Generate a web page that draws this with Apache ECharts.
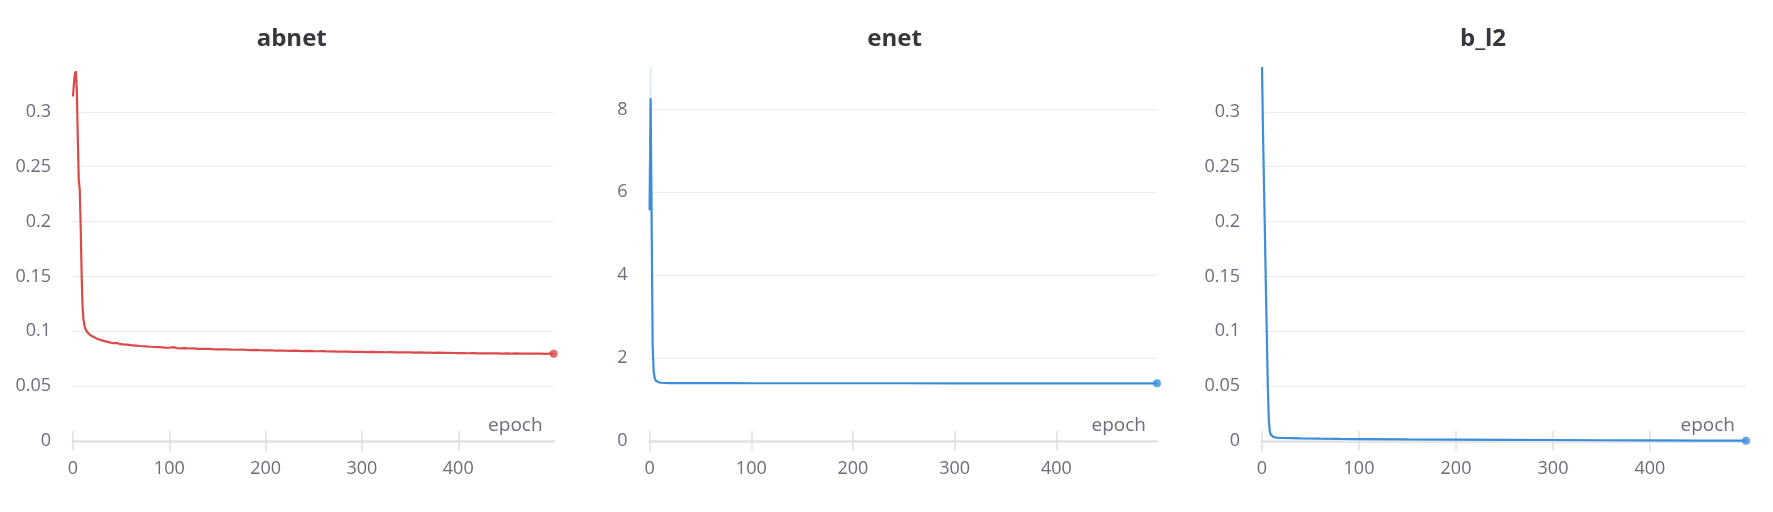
<!DOCTYPE html>
<html>
<head>
<meta charset="utf-8">
<script src="https://cdn.jsdelivr.net/npm/echarts@6/dist/echarts.min.js"></script>
<style>
  html, body { margin: 0; padding: 0; background: #ffffff; }
  #chart { width: 1773px; height: 512px; }
</style>
</head>
<body>
<div id="chart"></div>
<script>
// ---------------- data ----------------
const titles = ['abnet', 'enet', 'b_l2'];
const xAxisName = 'epoch';
const xTicks = [0, 100, 200, 300, 400];

const abnetEpochs = [0,1,2,3,4,5,6,7,8,9,10,11,12,13,14,15,16,18,20,22,25,28,31,35,38,42,45,48,52,56,60,65,70,75,80,85,90,95,100,104,108,112,116,120,125,130,135,140,145,150,155,160,165,170,175,180,185,190,195,200,205,210,215,220,225,230,235,240,245,250,255,260,265,270,275,280,285,290,295,300,305,310,315,320,325,330,335,340,345,350,355,360,365,370,375,380,385,390,395,400,405,410,415,420,425,430,435,440,445,450,455,460,465,470,475,480,485,490,495,499];
const abnetValues = [0.3140,0.3260,0.3350,0.3370,0.3200,0.2750,0.2380,0.2290,0.1950,0.1500,0.1210,0.1100,0.1050,0.1020,0.1003,0.0990,0.0978,0.0963,0.0952,0.0945,0.0933,0.0922,0.0915,0.0906,0.0899,0.0891,0.0894,0.0886,0.0881,0.0878,0.0874,0.0870,0.0866,0.0863,0.0859,0.0857,0.0855,0.0852,0.0850,0.0856,0.0847,0.0845,0.0846,0.0843,0.0844,0.0840,0.0839,0.0841,0.0837,0.0836,0.0835,0.0836,0.0833,0.0832,0.0834,0.0830,0.0829,0.0831,0.0827,0.0826,0.0827,0.0824,0.0825,0.0823,0.0822,0.0824,0.0821,0.0820,0.0821,0.0819,0.0818,0.0819,0.0816,0.0817,0.0815,0.0814,0.0815,0.0813,0.0812,0.0813,0.0811,0.0812,0.0810,0.0811,0.0809,0.0810,0.0808,0.0809,0.0807,0.0808,0.0806,0.0807,0.0805,0.0806,0.0804,0.0805,0.0803,0.0804,0.0802,0.0801,0.0802,0.0800,0.0801,0.0799,0.0800,0.0799,0.0798,0.0799,0.0797,0.0798,0.0797,0.0798,0.0796,0.0797,0.0796,0.0797,0.0796,0.0795,0.0796,0.0796];

const enetEpochs = [0,1,2,3,4,5,6,7,8,9,10,12,15,20,30,40,50,75,100,150,200,250,300,350,400,450,499];
const enetValues = [5.57,8.27,5.30,2.30,1.68,1.52,1.46,1.44,1.425,1.415,1.41,1.405,1.40,1.398,1.397,1.396,1.395,1.395,1.394,1.394,1.393,1.393,1.392,1.392,1.392,1.391,1.391];
const enetRawEpochs = [0,1,2];
const enetRawValues = [5.57,9.8,5.30];

const bl2Epochs = [0,1,2,3,4,5,6,7,8,9,10,12,15,20,30,40,60,80,100,150,200,250,300,350,400,450,499];
const bl2Values = [0.342,0.283,0.236,0.190,0.140,0.095,0.050,0.020,0.009,0.0058,0.0045,0.0036,0.0031,0.0028,0.0026,0.0024,0.0021,0.0019,0.0018,0.0015,0.0013,0.0011,0.0009,0.0007,0.0006,0.0004,0.0003];

const yMaxes = [0.34, 9, 0.34];
const yIntervals = [0.05, 2, 0.05];
const xMax = 499;

// ---------------- layout / style ----------------
const panels = [
  { left: 73,    width: 480.6, titleX: 291.7, color: '#da4a4a', epochs: abnetEpochs, values: abnetValues },
  { left: 649.6, width: 507.4, titleX: 894.6, color: '#3a8edc', epochs: enetEpochs,  values: enetValues },
  { left: 1262,  width: 484,   titleX: 1483,  color: '#3a8edc', epochs: bl2Epochs,   values: bl2Values }
];
const FONT = '"Open Sans", "Noto Sans", sans-serif';
const LABEL_COLOR = '#6b6e7a';
const GRID_TOP = 68, GRID_BOTTOM = 71;

const pairs = (xs, ys) => xs.map((x, i) => [x, ys[i]]);

const option = {
  backgroundColor: '#ffffff',
  animation: false,
  title: panels.map((p, i) => ({
    text: titles[i],
    left: p.titleX,
    top: 27,
    padding: 0,
    textAlign: 'center',
    textStyle: { fontFamily: FONT, fontSize: 24, fontWeight: 'bold', color: '#35383d' }
  })),
  grid: panels.map(p => ({
    left: p.left, width: p.width, top: GRID_TOP, bottom: GRID_BOTTOM,
    containLabel: false, outerBoundsMode: 'none'
  })),
  xAxis: [],
  yAxis: [],
  series: []
};

panels.forEach((p, i) => {
  // main x axis (outer ticks, labels, name)
  option.xAxis.push({
    type: 'value', gridIndex: i, min: 0, max: xMax,
    name: xAxisName, nameLocation: 'end', nameGap: -11, nameMoveOverlap: false,
    nameTextStyle: { fontFamily: FONT, fontSize: 19, color: LABEL_COLOR, align: 'right', verticalAlign: 'bottom', padding: [0, 0, 6, 0] },
    axisLine: { show: true, onZero: false, lineStyle: { color: '#e6e6e8', width: 3 } },
    axisTick: { show: true, length: 10, customValues: xTicks, lineStyle: { color: '#e0e0e2', width: 1.5 } },
    axisLabel: { show: true, customValues: xTicks, margin: 19, fontFamily: FONT, fontSize: 18, color: LABEL_COLOR },
    splitLine: { show: false }
  });
  // helper x axis (inner ticks)
  option.xAxis.push({
    type: 'value', gridIndex: i, min: 0, max: xMax, position: 'bottom',
    axisLine: { show: false },
    axisTick: { show: true, inside: true, length: 10, customValues: xTicks, lineStyle: { color: '#e0e0e2', width: 1.5 } },
    axisLabel: { show: false },
    splitLine: { show: false }
  });
  option.yAxis.push({
    type: 'value', gridIndex: i, min: 0, max: yMaxes[i], interval: yIntervals[i],
    axisLine: { show: false },
    axisTick: { show: false },
    axisLabel: { margin: 22, showMaxLabel: false, fontFamily: FONT, fontSize: 18, color: LABEL_COLOR },
    splitLine: { show: true, showMaxLine: false, showMinLine: false, lineStyle: { color: '#ececee', width: 1 } }
  });
});

// enet raw (faint) trace
option.series.push({
  type: 'line', xAxisIndex: 2, yAxisIndex: 1,
  data: pairs(enetRawEpochs, enetRawValues),
  showSymbol: false, clip: true, z: 1,
  lineStyle: { color: 'rgba(58,142,220,0.15)', width: 2 }
});

panels.forEach((p, i) => {
  option.series.push({
    type: 'line', xAxisIndex: i * 2, yAxisIndex: i,
    data: pairs(p.epochs, p.values),
    showSymbol: false, clip: true, z: 3,
    lineStyle: { color: p.color, width: 2.2 },
    emphasis: { disabled: true }
  });
  const last = p.epochs.length - 1;
  option.series.push({
    type: 'scatter', xAxisIndex: i * 2, yAxisIndex: i,
    data: [[p.epochs[last], p.values[last]]],
    symbol: 'circle', symbolSize: 8, clip: false, z: 4,
    itemStyle: { color: p.color }
  });
});

const chart = echarts.init(document.getElementById('chart'), null, { renderer: 'canvas' });
chart.setOption(option);
</script>
</body>
</html>
